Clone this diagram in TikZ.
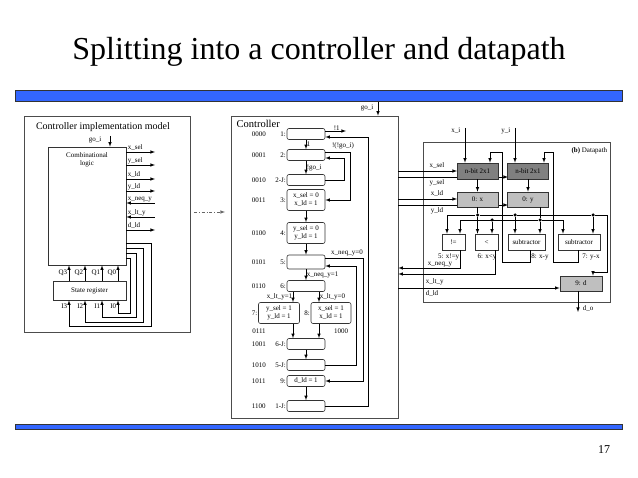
\documentclass[tikz,border=0pt]{standalone}
\usepackage{fontspec}
\setmainfont{Liberation Serif}
\usetikzlibrary{arrows,positioning,calc}
\definecolor{barblue}{RGB}{51,102,255}
\begin{document}
\begin{tikzpicture}[x=1pt, y=-1pt, >=latex, line width=0.6pt]
    \tikzstyle{lab}=[font=\fontsize{7}{8}\selectfont, inner sep=0.5pt]
    \tikzstyle{frame}=[draw=black!70, line width=0.7pt, inner sep=0pt]
    \tikzstyle{st}=[draw=black!80, rounded corners=2pt, minimum width=38pt, minimum height=11pt, inner sep=0pt, font=\fontsize{7}{8}\selectfont, align=center]
    \tikzstyle{blk}=[draw=black!80, minimum height=16pt, inner sep=0pt, font=\fontsize{7}{8}\selectfont]
    \tikzstyle{dot}=[circle, fill=black, inner sep=0pt, minimum size=3.5pt]

    \useasboundingbox (0,0) rectangle (638,478);

    % title and bars
    \node[font=\fontsize{32}{34}\selectfont] (title) at (319,52) {Splitting into a controller and datapath};
    \draw[fill=barblue, draw=black!80] (15,90) rectangle (622,101);
    \draw[fill=barblue, draw=black!80] (15,424) rectangle (622,429);
    \node[font=\fontsize{12}{14}\selectfont] (page) at (604,450) {17};

    % controller implementation model
    \node[frame, minimum width=166pt, minimum height=216pt] (cim) at (107,224) {};
    \node[font=\fontsize{10}{12}\selectfont] (cimt) at (103,127) {Controller implementation model};
    \node[draw=black!80, minimum width=78pt, minimum height=118pt, inner sep=0pt] (comb) at (87,206) {};
    \node[lab, align=center, anchor=north] (combt) at (87,152) {Combinational\\logic};
    \coordinate (goL) at (110,136);
    \node[lab, anchor=east] (goLt) at (102,140) {go\_i};
    \draw[->] (goL) -- (comb.north -| goL);
    \foreach \y/\t/\d in {152/x\_sel/->, 165/y\_sel/->, 179/x\_ld/->, 191/y\_ld/->, 203/x\_neq\_y/<-, 217/x\_lt\_y/<-, 230/d\_ld/->}{
        \draw[\d] (comb.east |- 0,\y) -- (155,\y);
        \node[lab, anchor=south west] at (127,\y-0.5) {\t};
    }
    \node[draw=black!80, minimum width=73pt, minimum height=19pt, inner sep=0pt, font=\fontsize{7}{8}\selectfont] (sreg) at (89.5,290.5) {State register};
    \foreach \x/\n/\ys/\xv/\yb in {69/3/243/151/326, 85/2/248/143/322, 102/1/253/136/317, 118/0/258/130/313}{
        \draw[->] (sreg.north -| \x,0) -- (comb.south -| \x,0);
        \node[lab, anchor=east] at (\x-1,273) {Q\n};
        \node[lab, anchor=east] at (\x-1,306) {I\n};
        \draw[->] (comb.east |- 0,\ys) -- (\xv,\ys) -- (\xv,\yb) -- (\x,\yb) -- (sreg.south -| \x,0);
    }

    % dash dot arrow
    \coordinate (dd1) at (194,212);
    \coordinate (dd2) at (225,212);
    \draw[->, dash dot, black!60] (dd1) -- (dd2);

    % controller
    \node[frame, minimum width=167pt, minimum height=302pt] (ctl) at (314.5,267) {};
    \node[font=\fontsize{10.5}{12}\selectfont, anchor=west] (ctlt) at (233,124) {Controller};
    \coordinate (goC) at (378,102);
    \node[lab, anchor=east] at (374,108) {go\_i};
    \draw[->] (goC) -- (ctl.north -| goC);

    \node[st] (s1)  at (306,134) {};
    \node[st] (s2)  at (306,155) {};
    \node[st] (s2j) at (306,180) {};
    \node[st, minimum height=21pt] (s3) at (306,200) {x\_sel = 0\\x\_ld = 1};
    \node[st, minimum height=21pt] (s4) at (306,233) {y\_sel = 0\\y\_ld = 1};
    \node[st, minimum height=14pt] (s5) at (306,262) {};
    \node[st] (s6)  at (306,286) {};
    \node[st, minimum width=41pt, minimum height=21pt] (s7) at (279,313) {y\_sel = 1\\y\_ld = 1};
    \node[st, minimum width=40pt, minimum height=21pt] (s8) at (331,313) {x\_sel = 1\\x\_ld = 1};
    \node[st] (s6j) at (306,344) {};
    \node[st] (s5j) at (306,365) {};
    \node[st] (s9)  at (306,381) {d\_ld = 1};
    \node[st] (s1j) at (306,406) {};

    \foreach \s/\c/\n in {s1/0000/1:, s2/0001/2:, s2j/0010/2-J:, s3/0011/3:, s4/0100/4:, s5/0101/5:, s6/0110/6:, s6j/1001/6-J:, s5j/1010/5-J:, s9/1011/9:, s1j/1100/1-J:}{
        \node[lab, anchor=east] at (\s.west) {\n};
        \node[lab, anchor=west] at (251,0 |- \s.west) {\c};
    }
    \node[lab, anchor=east] at (s7.west) {7:};
    \node[lab, anchor=east] at (s8.west) {8:};
    \node[lab] at (259,331) {0111};
    \node[lab] at (341,331) {1000};

    % transitions
    \coordinate (n1) at (346,131);
    \draw[->] (s1.east |- 0,131) -- (n1) node[lab, above, pos=0.55] {!1};
    \draw[->] (s1) -- (s2) node[lab, right, midway] {1};
    \draw[->] (s2) -- (s2j) node[lab, right, midway] {!go\_i};
    \draw[->] (s2j.east) -- (344,180) -- (344,158) -- (s2.east |- 0,158);
    \draw[->] (s2.east |- 0,152) -- (350,152) -- (350,200) -- (s3.east);
    \node[lab, anchor=south] at (343,150) {!(!go\_i)};
    \draw[->] (s3) -- (s4);
    \draw[->] (s4) -- (s5);
    \draw[->] (s5.east |- 0,258) -- (363,258) -- (363,381) -- (s9.east);
    \node[lab, anchor=south] at (347,257) {x\_neq\_y=0};
    \draw[->] (s5j.east) -- (356,365) -- (356,266) -- (s5.east |- 0,266);
    \draw[->] (s5) -- (s6) node[lab, right, midway] {x\_neq\_y=1};
    \draw[->] (s6.south -| 293,0) -- (s7.north -| 293,0) node[lab, left, midway] {x\_lt\_y=1};
    \draw[->] (s6.south -| 319,0) -- (s8.north -| 319,0) node[lab, right, midway] {x\_lt\_y=0};
    \draw[->] (s7.south -| 293,0) -- (s6j.north -| 293,0);
    \draw[->] (s8.south -| 319,0) -- (s6j.north -| 319,0);
    \draw[->] (s6j) -- (s5j);
    \draw[->] (s9) -- (s1j);
    \draw[->] (s1j.east) -- (368,406) -- (368,137) -- (s1.east |- 0,137);

    % datapath
    \node[frame, minimum width=187pt, minimum height=160pt] (dp) at (516.5,222) {};
    \node[lab, anchor=east] at (608,151) {\textbf{(b)} Datapath};
    \draw[->] (ctl.east |- 0,171) -- (457,171);
    \draw[->] (ctl.east |- 0,177) -- (508,177);
    \draw[->] (ctl.east |- 0,199) -- (457,199);
    \draw[->] (ctl.east |- 0,205) -- (508,205);
    \node[lab, anchor=south] at (437,169.5) {x\_sel};
    \node[lab, anchor=north] at (437,179) {y\_sel};
    \node[lab, anchor=south] at (437,197.5) {x\_ld};
    \node[lab, anchor=north] at (437,207) {y\_ld};

    \node[blk, fill=black!50, minimum width=41pt] (mux1) at (477.5,171) {n-bit 2x1};
    \node[blk, fill=black!50, minimum width=41pt] (mux2) at (528,171) {n-bit 2x1};
    \node[blk, fill=black!25, minimum width=41pt, minimum height=15pt] (rx) at (477.5,199.5) {0: x};
    \node[blk, fill=black!25, minimum width=41pt, minimum height=15pt] (ry) at (528,199.5) {0: y};
    \coordinate (xi) at (465,128);
    \coordinate (yi) at (515,128);
    \node[lab, anchor=east] at (461,131) {x\_i};
    \node[lab, anchor=east] at (511,131) {y\_i};
    \draw[->] (xi) -- (mux1.north -| xi);
    \draw[->] (yi) -- (mux2.north -| yi);
    \draw[->] (mux1) -- (rx);
    \draw[->] (mux2) -- (ry);

    \node[blk, fill=white, minimum width=23pt] (ne) at (453.5,242) {!=};
    \node[blk, fill=white, minimum width=23pt] (lt) at (486.5,242) {<};
    \node[blk, fill=white, minimum width=37pt] (sub8) at (526.5,242) {subtractor};
    \node[blk, fill=white, minimum width=42pt] (sub7) at (579,242) {subtractor};
    \node[blk, fill=black!25, minimum width=42pt, minimum height=15pt] (d) at (581,283.5) {9: d};

    % buses
    \node[dot] (xb) at (477.5,215) {};
    \node[dot] (xb2) at (515,215) {};
    \node[dot] (xb3) at (593,215) {};
    \node[dot] (yb) at (540,220) {};
    \node[dot] (yb2) at (492,220) {};
    \draw (rx.south) -- (xb);
    \draw[->] (xb) -- (447,215) -- (ne.north -| 447,0);
    \draw[->] (xb) -- (lt.north -| xb);
    \draw[->] (xb) -- (xb2) -- (sub8.north -| xb2);
    \draw[->] (xb2) -- (xb3) -- (sub7.north -| xb3);
    \draw[->] (xb3) -- (607,215) -- (607,272) -- (593,272) -- (d.north -| 593,0);
    \draw (ry.south -| yb) -- (yb);
    \draw[->] (yb) -- (460,220) -- (ne.north -| 460,0);
    \draw[->] (yb2) -- (lt.north -| yb2);
    \draw[->] (yb) -- (sub8.north -| yb);
    \draw[->] (yb) -- (563,220) -- (sub7.north -| 563,0);
    \draw[->] (sub8.south -| 530,0) -- (530,262) -- (502,262) -- (502,152) -- (490,152) -- (mux1.north -| 490,0);
    \draw[->] (sub7.south -| 578,0) -- (578,262) -- (553,262) -- (553,152) -- (544,152) -- (mux2.north -| 544,0);

    \node[lab, anchor=east] at (460,257) {5: x!=y};
    \node[lab] at (487,257) {6: x<y};
    \node[lab] at (540,257) {8: x-y};
    \node[lab] at (591,257) {7: y-x};
    \draw[->] (ne.south -| 460,0) -- (460,268) -- (ctl.east |- 0,268);
    \draw[->] (lt.south -| 495,0) -- (495,274) -- (ctl.east |- 0,274);
    \node[lab, anchor=south] at (440,267.5) {x\_neq\_y};
    \node[lab, anchor=south west] at (425,285.5) {x\_lt\_y};
    \draw[->] (ctl.east |- 0,288) -- (d.west |- 0,288);
    \node[lab, anchor=north west] at (425,290) {d\_ld};
    \coordinate (dout) at (578,312);
    \draw[->] (d.south -| dout) -- (dout);
    \node[lab, anchor=west] at (582,309) {d\_o};
\end{tikzpicture}
\end{document}
